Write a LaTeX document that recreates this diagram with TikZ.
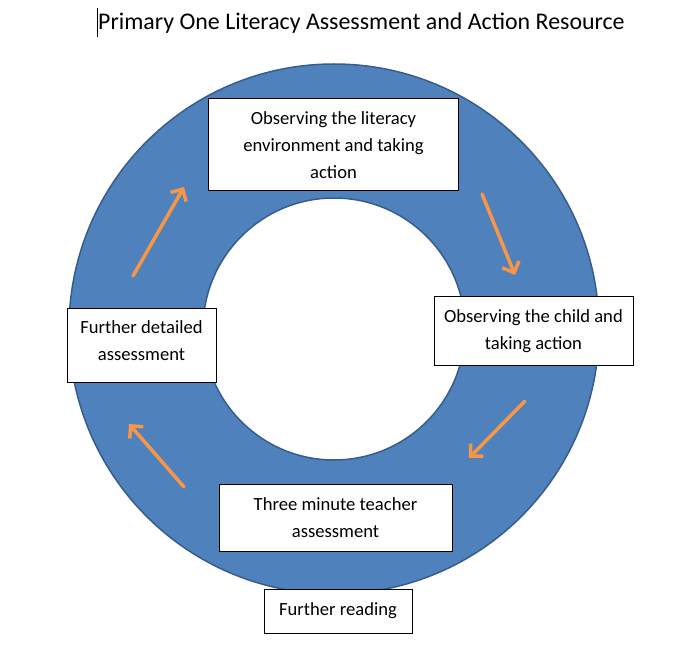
\documentclass[tikz,border=0pt]{standalone}
\usepackage{fontspec}
\setmainfont{Carlito}
\usetikzlibrary{arrows.meta}

\definecolor{ringblue}{HTML}{4F81BD}
\definecolor{ringedge}{HTML}{385D8A}
\definecolor{arroworange}{HTML}{F79646}

\tikzset{
	stage/.style={draw=black, line width=1pt, fill=white, align=center, inner sep=0pt,
		font=\fontsize{18.6}{27}\selectfont},
	flow/.style={draw=arroworange, line width=3.5pt, line cap=round}
}

\begin{document}
\begin{tikzpicture}[x=1pt, y=-1pt, arrows={-Straight Barb[length=9pt,width=18pt]}]
	\useasboundingbox (0,0) rectangle (689,647);

	\coordinate (O) at (334,329);
	\fill[ringblue, even odd rule] (O) circle (265) (O) circle (131);
	\draw[ringedge, line width=1.5pt] (O) circle (265);
	\draw[ringedge, line width=1.5pt] (O) circle (131);

	\node[anchor=base west, inner sep=0pt, font=\fontsize{23.9}{28}\selectfont] (title) at (98,30)
		{Primary One Literacy Assessment and Action Resource};
	\coordinate (cur0) at (97,8);
	\coordinate (cur1) at (97,37);
	\draw[-, line width=0.8pt] (cur0) -- (cur1);

	\node[stage, minimum width=250pt, minimum height=92pt] (env) at (333.5,145)
		{Observing the literacy\\environment and taking\\action};
	\node[stage, minimum width=199pt, minimum height=69pt] (child) at (533.5,331.5)
		{Observing the child and\\taking action};
	\node[stage, minimum width=233pt, minimum height=67pt] (three) at (335.5,517.5)
		{Three minute teacher\\assessment};
	\node[stage, minimum width=149pt, minimum height=74pt, text depth=10pt] (detail) at (141.5,346)
		{Further detailed\\assessment};
	\node[stage, minimum width=148pt, minimum height=44pt] (read) at (338,611)
		{Further reading};

	\coordinate (ur0) at (482,194);
	\coordinate (ur1) at (515,275);
	\coordinate (lr0) at (525,401);
	\coordinate (lr1) at (469,458);
	\coordinate (ll0) at (184,487);
	\coordinate (ll1) at (129,424);
	\coordinate (ul0) at (133,276);
	\coordinate (ul1) at (184,187);

	\draw[flow] (ur0) -- (ur1);
	\draw[flow] (lr0) -- (lr1);
	\draw[flow] (ll0) -- (ll1);
	\draw[flow] (ul0) -- (ul1);

\end{tikzpicture}
\end{document}
